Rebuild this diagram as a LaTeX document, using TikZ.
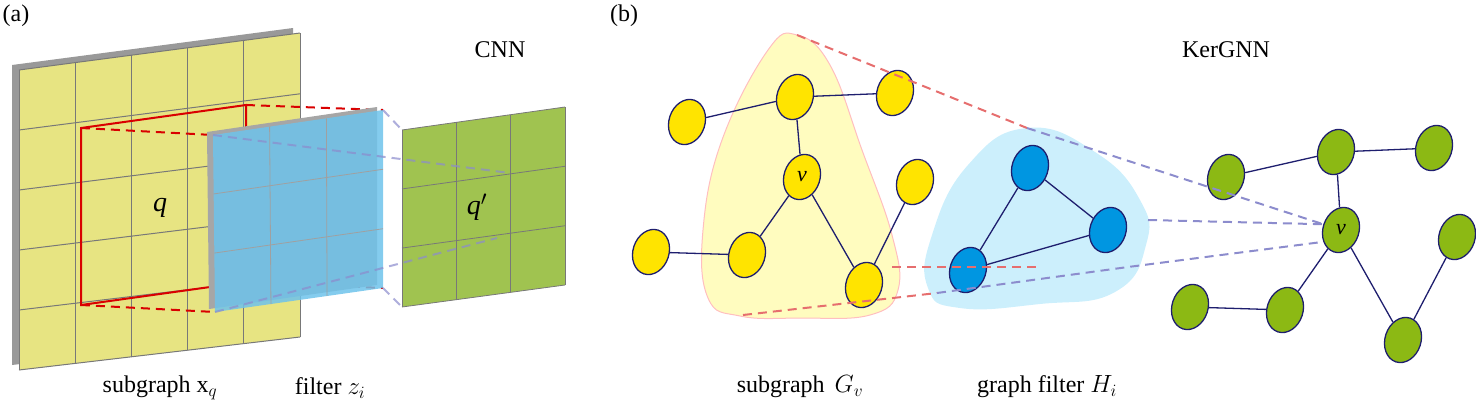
\documentclass[tikz,border=0pt]{standalone}
\usepackage{fontspec}
\setmainfont{Liberation Serif}
\usetikzlibrary{calc,shapes.geometric}
\definecolor{yel}{RGB}{231,228,130}
\definecolor{blu}{RGB}{110,195,235}
\definecolor{grn}{RGB}{160,195,80}
\definecolor{gridc}{RGB}{120,120,120}
\definecolor{nyel}{RGB}{255,228,0}
\definecolor{nblu}{RGB}{0,150,225}
\definecolor{ngrn}{RGB}{140,185,20}
\definecolor{edge}{RGB}{30,30,110}
\definecolor{pdash}{RGB}{140,140,205}
\definecolor{rdash}{RGB}{230,110,110}
\tikzset{
  gnode/.style={ellipse,draw=edge,line width=1.3pt,minimum width=36pt,minimum height=46pt,rotate=-18,inner sep=0pt},
  gedge/.style={draw=edge,line width=1.3pt},
  redd/.style={red!85!black,line width=2pt,dash pattern=on 9pt off 6pt},
  bluedash/.style={pdash,line width=2pt,dash pattern=on 9pt off 6pt},
  rd/.style={rdash,line width=2pt,dash pattern=on 9pt off 6pt},
  lab/.style={font=\fontsize{24}{28}\selectfont},
}
\begin{document}
\begin{tikzpicture}[x=1pt,y=-1pt]
\useasboundingbox (0,0) rectangle (1476,405);
\node[lab] (la) at (16,16) {(a)};
\node[lab] (lb) at (624,16) {(b)};
\node[lab] (cnn) at (500,50) {CNN};
\node[lab] (ker) at (1226,50) {KerGNN};
% yellow panel
\coordinate (A) at (19,70); \coordinate (B) at (300,33);
\coordinate (C) at (300,337); \coordinate (D) at (19,370);
\fill[gray!80] ($(A)+(-7,-5)$) -- ($(B)+(-7,-5)$) -- ($(C)+(-7,-5)$) -- ($(D)+(-7,-5)$) -- cycle;
\fill[yel] (A) -- (B) -- (C) -- (D) -- cycle;
\foreach \i in {0,0.2,0.4,0.6,0.8,1}{
  \draw[gridc,line width=1pt] ($(A)!\i!(B)$) -- ($(D)!\i!(C)$);
  \draw[gridc,line width=1pt] ($(A)!\i!(D)$) -- ($(B)!\i!(C)$);}
% red square
\coordinate (RA) at (81,128); \coordinate (RB) at (246,105);
\coordinate (RC) at (246,282); \coordinate (RD) at (81,305);
\draw[red!85!black,line width=2pt] (RA) -- (RB) -- (RC) -- (RD) -- cycle;
% blue panel
\coordinate (BA) at (213,135); \coordinate (BB) at (383,110);
\coordinate (BC) at (383,288); \coordinate (BD) at (215,312);
\draw[redd] (RA) -- (BA); \draw[redd] (RB) -- (BB);
\draw[redd] (RD) -- (BD); \draw[redd] (RC) -- (BC);
\fill[gray!70] ($(BA)+(-6,-3)$) -- ($(BB)+(-6,-3)$) -- ($(BC)+(-6,-3)$) -- ($(BD)+(-6,-3)$) -- cycle;
\fill[blu,opacity=0.85] (BA) -- (BB) -- (BC) -- (BD) -- cycle;
\foreach \i in {0.333,0.667}{
  \draw[gridc!70,line width=0.8pt] ($(BA)!\i!(BB)$) -- ($(BD)!\i!(BC)$);
  \draw[gridc!70,line width=0.8pt] ($(BA)!\i!(BD)$) -- ($(BB)!\i!(BC)$);}
% green panel
\coordinate (GA) at (402,130); \coordinate (GB) at (565,107);
\coordinate (GC) at (565,285); \coordinate (GD) at (402,307);
\fill[grn] (GA) -- (GB) -- (GC) -- (GD) -- cycle;
\foreach \i in {0,0.333,0.667,1}{
  \draw[gridc,line width=0.8pt] ($(GA)!\i!(GB)$) -- ($(GD)!\i!(GC)$);
  \draw[gridc,line width=0.8pt] ($(GA)!\i!(GD)$) -- ($(GB)!\i!(GC)$);}
\coordinate (GM1) at (510,173); \coordinate (GM2) at (497,238);
\draw[bluedash,opacity=0.7] (BA) -- (GM1); \draw[bluedash,opacity=0.7] (BD) -- (GM2);
\draw[bluedash,opacity=0.7] (BB) -- (GA); \draw[bluedash,opacity=0.7] (BC) -- (GD);
\node[lab,font=\fontsize{28}{30}\selectfont\itshape] (q) at (160,208) {q};
\node[lab,font=\fontsize{28}{30}\selectfont\itshape] (qp) at (477,207) {q$'$};
\node[lab] (l1) at (160,388) {subgraph $\mathrm{x}_q$};
\node[lab] (l2) at (330,388) {filter $z_i$};
% right panel blobs
\fill[yellow!25,draw=red!25,line width=1pt] plot[smooth cycle,tension=0.7] coordinates {(797,35) (830,65) (862,150) (892,235) (898,290) (870,315) (800,318) (740,316) (708,298) (703,230) (722,140) (768,50)};
\fill[cyan!20] plot[smooth cycle,tension=0.8] coordinates {(1027,128) (1095,152) (1140,200) (1146,245) (1115,292) (1040,304) (960,308) (928,288) (932,235) (968,165)};
% yellow graph nodes
\node[gnode,fill=nyel] (y1) at (795,97) {};
\node[gnode,fill=nyel] (y2) at (895,93) {};
\node[gnode,fill=nyel] (y3) at (687,122) {};
\node[gnode,fill=nyel] (yv) at (802,177) {};
\node[font=\fontsize{22}{24}\selectfont\itshape] (yvl) at (802,177) {v};
\node[gnode,fill=nyel] (y5) at (915,182) {};
\node[gnode,fill=nyel] (y6) at (651,252) {};
\node[gnode,fill=nyel] (y7) at (747,255) {};
\node[gnode,fill=nyel] (y8) at (864,285) {};
% blue graph nodes
\node[gnode,fill=nblu] (b1) at (1030,168) {};
\node[gnode,fill=nblu] (b2) at (1108,230) {};
\node[gnode,fill=nblu] (b3) at (968,270) {};
% green graph nodes
\node[gnode,fill=ngrn] (g1) at (1226,177) {};
\node[gnode,fill=ngrn] (g2) at (1336,152) {};
\node[gnode,fill=ngrn] (g3) at (1434,148) {};
\node[gnode,fill=ngrn] (gv) at (1341,230) {};
\node[font=\fontsize{22}{24}\selectfont\itshape] (gvl) at (1341,230) {v};
\node[gnode,fill=ngrn] (g5) at (1457,237) {};
\node[gnode,fill=ngrn] (g6) at (1190,307) {};
\node[gnode,fill=ngrn] (g7) at (1285,310) {};
\node[gnode,fill=ngrn] (g8) at (1403,340) {};
% edges
\path[gedge] (y1) -- (y2) (y1) -- (y3) (y1) -- (yv) (yv) -- (y7) (yv) -- (y8) (y7) -- (y6) (y8) -- (y5);
\path[gedge] (b1) -- (b2) (b2) -- (b3) (b3) -- (b1);
\path[gedge] (g2) -- (g3) (g2) -- (g1) (g2) -- (gv) (gv) -- (g7) (gv) -- (g8) (g7) -- (g6) (g8) -- (g5);
% dashed connectors
\coordinate (t1) at (797,35); \coordinate (t2) at (1027,128);
\coordinate (m1) at (892,267); \coordinate (m2) at (1040,267);
\coordinate (m3) at (1148,220);
\coordinate (s1) at (743,315); \coordinate (s2) at (937,293);
\coordinate (s3) at (1128,267);
\draw[rd] (t1) -- (t2); \draw[bluedash] (t2) -- (gv);
\draw[rd] (m1) -- (m2); \draw[bluedash] (m3) -- (gv.west);
\draw[rd] (s1) -- (s2); \draw[bluedash] (s2) -- (s3) -- (gv.south west);
\node[lab] (l3) at (800,387) {subgraph\, $G_v$};
\node[lab] (l4) at (1047,387) {graph filter $H_i$};
\end{tikzpicture}
\end{document}
